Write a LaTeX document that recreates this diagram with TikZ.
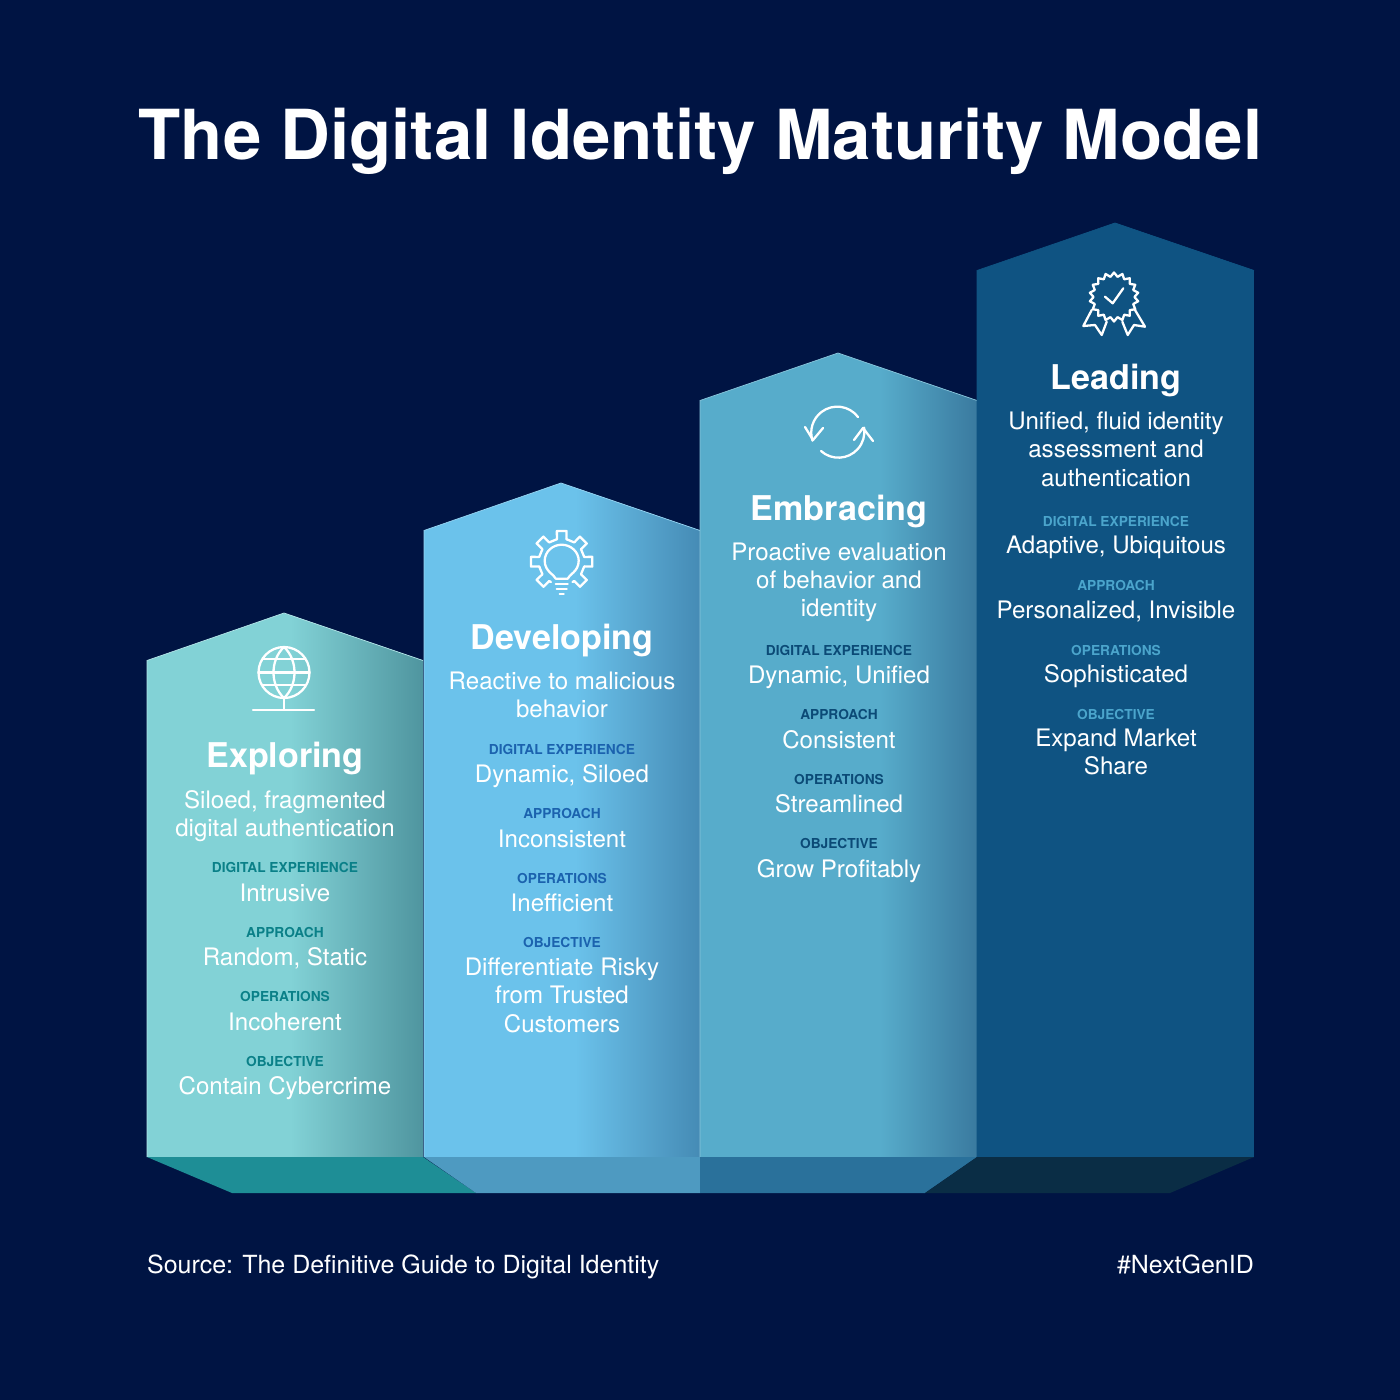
\documentclass[tikz,border=0pt]{standalone}
\usepackage{fontspec}
\setmainfont{TeX Gyre Heros}
\usetikzlibrary{positioning,shapes.geometric}

\definecolor{bgnavy}{HTML}{001443}
\definecolor{expbase}{HTML}{82D2D6}
\definecolor{expdark}{HTML}{4F959F}
\definecolor{expmid}{HTML}{72BEC6}
\definecolor{expfoot}{HTML}{1E8E96}
\definecolor{explab}{HTML}{0A8088}
\definecolor{devbase}{HTML}{6BC2EB}
\definecolor{devdark}{HTML}{458BB5}
\definecolor{devmid}{HTML}{5AAAD5}
\definecolor{devfoot}{HTML}{4E9AC1}
\definecolor{devlab}{HTML}{1B62AE}
\definecolor{embbase}{HTML}{57ACCB}
\definecolor{embdark}{HTML}{3A7A9F}
\definecolor{embmid}{HTML}{4C9BBE}
\definecolor{embfoot}{HTML}{2A719B}
\definecolor{emblab}{HTML}{0B4A76}
\definecolor{leadbase}{HTML}{0F5382}
\definecolor{leadfoot}{HTML}{0A2D45}
\definecolor{leadlab}{HTML}{4BA5CC}

\newcommand{\linestrut}{\rule[-1.5pt]{0pt}{6.7pt}}

\tikzset{
  headtxt/.style={text=white, font=\fontsize{9.7}{11}\selectfont\bfseries, inner sep=0pt, outer sep=0pt, text height=7pt, text depth=2pt},
  desctxt/.style={text=white, font=\fontsize{6.85}{8}\selectfont, align=center, inner sep=0pt, outer sep=0pt, execute at begin node=\linestrut, execute at end node=\linestrut},
  labtxt/.style={font=\fontsize{3.9}{5}\selectfont\bfseries, inner sep=0pt, outer sep=0pt, text height=3pt, text depth=0pt},
  foottxt/.style={text=white, font=\fontsize{7.1}{9}\selectfont, inner sep=0pt},
  icon/.style={draw=white, line width=0.65pt, line cap=round, line join=round}
}

\begin{document}
\begin{tikzpicture}[x=0.01cm, y=-0.01cm]
      \useasboundingbox (0,0) rectangle (1400,1400);
      \fill[bgnavy] (0,0) rectangle (1400,1400);

      % Columns
      \foreach \xl/\xm/\xr/\ytop/\xg/\colbase/\colmid/\coldark/\coledge in {
        147/284/423/613/290/expbase/expmid/expdark/expbase!60!white,
        424/561/700/483/575/devbase/devmid/devdark/devbase!70!white,
        700/838/977/353/880/embbase/embmid/embdark/embbase!70!white,
        977/1115/1254/223/1100/leadbase/leadbase/leadbase/leadbase}
      {
        \begin{scope}
          \clip (\xl,\ytop+47.5) -- (\xm,\ytop) -- (\xr,\ytop+47.5) -- (\xr,1157) -- (\xl,1157) -- cycle;
          \fill[\colbase] (\xl,\ytop) rectangle (\xr,1157);
          \shade[left color=\colbase, middle color=\colmid, right color=\coldark] (\xg,\ytop) rectangle (\xr,1157);
        \end{scope}
        \draw[\coledge, line width=0.2pt] (\xl,1157) -- (\xl,\ytop+47.5) -- (\xm,\ytop) -- (\xr,\ytop+47.5);
      }

      % Feet
      \fill[expfoot] (147,1157) -- (423,1157) -- (476,1193) -- (232,1193) -- cycle;
      \fill[devfoot] (424,1157) -- (700,1157) -- (700,1193) -- (476,1193) -- cycle;
      \fill[embfoot] (700,1157) -- (977,1157) -- (925,1193) -- (700,1193) -- cycle;
      \fill[leadfoot] (977,1157) -- (1254,1157) -- (1170,1193) -- (925,1193) -- cycle;

      % Title and footer
      \node[text=white, font=\fontsize{19.62}{22}\selectfont\bfseries, inner sep=0pt, anchor=base] (title) at (700.5,159.5) {The Digital Identity Maturity Model};
      \node[foottxt, anchor=base west] (source) at (146.5,1273.5) {Source: The Definitive Guide to Digital Identity};
      \node[foottxt, anchor=base east] (tag) at (1254.5,1273.5) {\#NextGenID};

      % Exploring
      \node[headtxt, anchor=base] (exphead) at (285,767) {Exploring};
      \node[desctxt, below=4.6pt of exphead] (expdesc) {Siloed, fragmented\\digital authentication};
      \node[labtxt, text=explab, below=5.8pt of expdesc] (expl1) {DIGITAL EXPERIENCE};
      \node[desctxt, below=2.95pt of expl1] (expv1) {Intrusive};
      \node[labtxt, text=explab, below=5.7pt of expv1] (expl2) {APPROACH};
      \node[desctxt, below=2.95pt of expl2] (expv2) {Random, Static};
      \node[labtxt, text=explab, below=5.7pt of expv2] (expl3) {OPERATIONS};
      \node[desctxt, below=2.95pt of expl3] (expv3) {Incoherent};
      \node[labtxt, text=explab, below=5.7pt of expv3] (expl4) {OBJECTIVE};
      \node[desctxt, below=2.95pt of expl4] (expv4) {Contain Cybercrime};

      % Developing
      \node[headtxt, anchor=base] (devhead) at (562,649) {Developing};
      \node[desctxt, below=4.6pt of devhead] (devdesc) {Reactive to malicious\\behavior};
      \node[labtxt, text=devlab, below=5.8pt of devdesc] (devl1) {DIGITAL EXPERIENCE};
      \node[desctxt, below=2.95pt of devl1] (devv1) {Dynamic, Siloed};
      \node[labtxt, text=devlab, below=5.7pt of devv1] (devl2) {APPROACH};
      \node[desctxt, below=2.95pt of devl2] (devv2) {Inconsistent};
      \node[labtxt, text=devlab, below=5.7pt of devv2] (devl3) {OPERATIONS};
      \node[desctxt, below=2.95pt of devl3] (devv3) {Inefficient};
      \node[labtxt, text=devlab, below=5.7pt of devv3] (devl4) {OBJECTIVE};
      \node[desctxt, below=2.95pt of devl4] (devv4) {Differentiate Risky\\from Trusted\\Customers};

      % Embracing
      \node[headtxt, anchor=base] (embhead) at (839,520) {Embracing};
      \node[desctxt, below=4.4pt of embhead] (embdesc) {Proactive evaluation\\of behavior and\\identity};
      \node[labtxt, text=emblab, below=6.6pt of embdesc] (embl1) {DIGITAL EXPERIENCE};
      \node[desctxt, below=2.8pt of embl1] (embv1) {Dynamic, Unified};
      \node[labtxt, text=emblab, below=5.85pt of embv1] (embl2) {APPROACH};
      \node[desctxt, below=2.8pt of embl2] (embv2) {Consistent};
      \node[labtxt, text=emblab, below=5.85pt of embv2] (embl3) {OPERATIONS};
      \node[desctxt, below=2.8pt of embl3] (embv3) {Streamlined};
      \node[labtxt, text=emblab, below=5.85pt of embv3] (embl4) {OBJECTIVE};
      \node[desctxt, below=2.8pt of embl4] (embv4) {Grow Profitably};

      % Leading
      \node[headtxt, anchor=base] (leadhead) at (1116,389) {Leading};
      \node[desctxt, below=4.6pt of leadhead] (leaddesc) {Unified, fluid identity\\assessment and\\authentication};
      \node[labtxt, text=leadlab, below=6.95pt of leaddesc] (leadl1) {DIGITAL EXPERIENCE};
      \node[desctxt, below=2.55pt of leadl1] (leadv1) {Adaptive, Ubiquitous};
      \node[labtxt, text=leadlab, below=6.1pt of leadv1] (leadl2) {APPROACH};
      \node[desctxt, below=2.55pt of leadl2] (leadv2) {Personalized, Invisible};
      \node[labtxt, text=leadlab, below=6.1pt of leadv2] (leadl3) {OPERATIONS};
      \node[desctxt, below=2.55pt of leadl3] (leadv3) {Sophisticated};
      \node[labtxt, text=leadlab, below=6.1pt of leadv3] (leadl4) {OBJECTIVE};
      \node[desctxt, below=2.55pt of leadl4] (leadv4) {Expand Market\\Share};

      % Globe icon
      \draw[icon] (284,672.5) circle (25.5);
      \draw[icon] (284,647) .. controls (270,660) and (270,685) .. (284,698) .. controls (298,685) and (298,660) .. (284,647);
      \draw[icon] (263,659) -- (305,659);
      \draw[icon] (258.5,672.5) -- (309.5,672.5);
      \draw[icon] (263,685) -- (305,685);
      \draw[icon] (284,698) -- (284,710);
      \draw[icon] (253,710) -- (314,710);

      % Gear icon
      \begin{scope}[shift={(561.7,561.7)}]
        \foreach \a in {45,0,-45,-90,-135,180,135}
          \draw[icon] (\a+12:23) -- (\a+9:31) -- (\a-9:31) -- (\a-12:23);
        \foreach \a in {0,-45,-90,-135,180,135}
          \draw[icon] (\a+33:23) -- (\a+12:23);
        \draw[icon] (45+12:23) -- (62:23);
        \draw[icon] (135-12:23) -- (118:23);
        % Bulb
        \draw[icon] (-6,17) .. controls (-7,13) and (-17,10) .. (-17,-1) .. controls (-17,-10) and (-9,-17) .. (0,-17) .. controls (9,-17) and (17,-10) .. (17,-1) .. controls (17,10) and (7,13) .. (6,17) -- cycle;
        \draw[icon] (-6,22) -- (6,22);
        \draw[icon] (-5,27) -- (5,27);
        \draw[icon] (-2,32) -- (2,32);
      \end{scope}

      % Refresh icon
      \draw[icon] (858,417) arc[start angle=-37, end angle=-198, radius=26];
      \draw[icon] (805,427) -- (813,440) -- (823,428);
      \draw[icon] (821,451) arc[start angle=132, end angle=-9, radius=26];
      \draw[icon] (854,440) -- (863,428) -- (873,441);

      % Badge icon
      \node[star, star points=18, star point ratio=1.2, draw=white, line width=0.65pt, line join=round, minimum size=0.49cm, inner sep=0pt] (badge) at (1114,297) {};
      \draw[icon] (1105,296.7) -- (1112.7,303.3) -- (1123.3,288.3);
      \draw[icon] (1091.7,310) -- (1083.3,326) -- (1095,325) -- (1101.7,335) -- (1106.7,321.7);
      \draw[icon] (1135,310) -- (1145,326.7) -- (1134,325) -- (1127.7,335) -- (1122.3,321.7);
    \end{tikzpicture}
\end{document}
